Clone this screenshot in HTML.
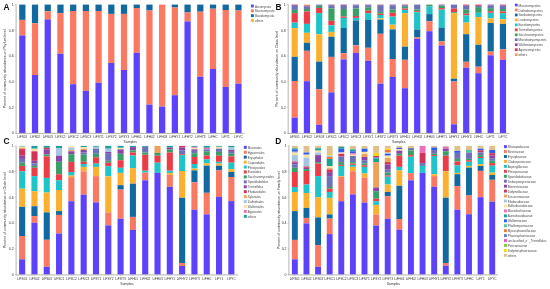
<!DOCTYPE html>
<html><head><meta charset="utf-8"><title>Community composition bar charts</title>
<style>
html,body{margin:0;padding:0;background:#fff;}
body{width:550px;height:289px;overflow:hidden;}
svg{display:block;will-change:transform;font-family:"Liberation Sans",sans-serif;}
</style></head>
<body>
<svg width="550" height="289" viewBox="0 0 550 289">
<rect width="550" height="289" fill="#fff"/>
<rect x="19.2" y="4.6" width="6.25" height="15.3" fill="#1169a0"/>
<rect x="19.2" y="19.9" width="6.25" height="15.5" fill="#fb7862"/>
<rect x="19.2" y="35.4" width="6.25" height="97.6" fill="#5d42fb"/>
<rect x="31.91" y="4.6" width="6.25" height="18.6" fill="#1169a0"/>
<rect x="31.91" y="23.2" width="6.25" height="51.8" fill="#fb7862"/>
<rect x="31.91" y="75" width="6.25" height="58" fill="#5d42fb"/>
<rect x="44.62" y="4.6" width="6.25" height="6.6" fill="#1169a0"/>
<rect x="44.62" y="11.2" width="6.25" height="8.2" fill="#fb7862"/>
<rect x="44.62" y="19.4" width="6.25" height="113.6" fill="#5d42fb"/>
<rect x="57.34" y="4.6" width="6.25" height="8.6" fill="#1169a0"/>
<rect x="57.34" y="13.2" width="6.25" height="40.6" fill="#fb7862"/>
<rect x="57.34" y="53.8" width="6.25" height="79.2" fill="#5d42fb"/>
<rect x="70.05" y="4.6" width="6.25" height="6.4" fill="#1169a0"/>
<rect x="70.05" y="11" width="6.25" height="73.2" fill="#fb7862"/>
<rect x="70.05" y="84.2" width="6.25" height="48.8" fill="#5d42fb"/>
<rect x="82.76" y="4.6" width="6.25" height="6.4" fill="#1169a0"/>
<rect x="82.76" y="11" width="6.25" height="79.9" fill="#fb7862"/>
<rect x="82.76" y="90.9" width="6.25" height="42.1" fill="#5d42fb"/>
<rect x="95.47" y="4.6" width="6.25" height="6.4" fill="#1169a0"/>
<rect x="95.47" y="11" width="6.25" height="71.7" fill="#fb7862"/>
<rect x="95.47" y="82.7" width="6.25" height="50.3" fill="#5d42fb"/>
<rect x="108.18" y="4.6" width="6.25" height="9.3" fill="#1169a0"/>
<rect x="108.18" y="13.9" width="6.25" height="49.1" fill="#fb7862"/>
<rect x="108.18" y="63" width="6.25" height="70" fill="#5d42fb"/>
<rect x="120.9" y="4.6" width="6.25" height="9.3" fill="#1169a0"/>
<rect x="120.9" y="13.9" width="6.25" height="56.1" fill="#fb7862"/>
<rect x="120.9" y="70" width="6.25" height="63" fill="#5d42fb"/>
<rect x="133.61" y="4.6" width="6.25" height="3.4" fill="#1169a0"/>
<rect x="133.61" y="8" width="6.25" height="44.8" fill="#fb7862"/>
<rect x="133.61" y="52.8" width="6.25" height="80.2" fill="#5d42fb"/>
<rect x="146.32" y="4.6" width="6.25" height="5.9" fill="#1169a0"/>
<rect x="146.32" y="10.5" width="6.25" height="94.1" fill="#fb7862"/>
<rect x="146.32" y="104.6" width="6.25" height="28.4" fill="#5d42fb"/>
<rect x="159.03" y="4.6" width="6.25" height="102" fill="#fb7862"/>
<rect x="159.03" y="106.6" width="6.25" height="26.4" fill="#5d42fb"/>
<rect x="171.74" y="4.6" width="6.25" height="2.9" fill="#1169a0"/>
<rect x="171.74" y="7.5" width="6.25" height="87.7" fill="#fb7862"/>
<rect x="171.74" y="95.2" width="6.25" height="37.8" fill="#5d42fb"/>
<rect x="184.46" y="4.6" width="6.25" height="7.9" fill="#1169a0"/>
<rect x="184.46" y="12.5" width="6.25" height="8.9" fill="#fb7862"/>
<rect x="184.46" y="21.4" width="6.25" height="111.6" fill="#5d42fb"/>
<rect x="197.17" y="4.6" width="6.25" height="7.1" fill="#1169a0"/>
<rect x="197.17" y="11.7" width="6.25" height="65" fill="#fb7862"/>
<rect x="197.17" y="76.7" width="6.25" height="56.3" fill="#5d42fb"/>
<rect x="209.88" y="4.6" width="6.25" height="4.1" fill="#1169a0"/>
<rect x="209.88" y="8.7" width="6.25" height="60.3" fill="#fb7862"/>
<rect x="209.88" y="69" width="6.25" height="64" fill="#5d42fb"/>
<rect x="222.59" y="4.6" width="6.25" height="5.4" fill="#1169a0"/>
<rect x="222.59" y="10" width="6.25" height="76.9" fill="#fb7862"/>
<rect x="222.59" y="86.9" width="6.25" height="46.1" fill="#5d42fb"/>
<rect x="235.3" y="4.6" width="6.25" height="5.9" fill="#1169a0"/>
<rect x="235.3" y="10.5" width="6.25" height="73.2" fill="#fb7862"/>
<rect x="235.3" y="83.7" width="6.25" height="49.3" fill="#5d42fb"/>
<path d="M16.1 4.2V133.8" fill="none" stroke="#a2a2a2" stroke-width="0.8"/>
<path d="M15.7 133.4H244.5" fill="none" stroke="#a2a2a2" stroke-width="0.8"/>
<path d="M14.7 133H16.1" stroke="#a2a2a2" stroke-width="0.45"/>
<text x="13.7" y="134.25" font-size="3.5" text-anchor="end" fill="#333333">0</text>
<path d="M14.7 107.32H16.1" stroke="#a2a2a2" stroke-width="0.45"/>
<text x="13.7" y="108.57" font-size="3.5" text-anchor="end" fill="#333333">0.2</text>
<path d="M14.7 81.64H16.1" stroke="#a2a2a2" stroke-width="0.45"/>
<text x="13.7" y="82.89" font-size="3.5" text-anchor="end" fill="#333333">0.4</text>
<path d="M14.7 55.96H16.1" stroke="#a2a2a2" stroke-width="0.45"/>
<text x="13.7" y="57.21" font-size="3.5" text-anchor="end" fill="#333333">0.6</text>
<path d="M14.7 30.28H16.1" stroke="#a2a2a2" stroke-width="0.45"/>
<text x="13.7" y="31.53" font-size="3.5" text-anchor="end" fill="#333333">0.8</text>
<path d="M14.7 4.6H16.1" stroke="#a2a2a2" stroke-width="0.45"/>
<text x="13.7" y="5.85" font-size="3.5" text-anchor="end" fill="#333333">1</text>
<path d="M22.32 133V134" stroke="#a2a2a2" stroke-width="0.4"/>
<text x="22.32" y="137.85" font-size="3.2" text-anchor="middle" fill="#333333">LiFS01</text>
<path d="M35.04 133V134" stroke="#a2a2a2" stroke-width="0.4"/>
<text x="35.04" y="137.85" font-size="3.2" text-anchor="middle" fill="#333333">LiFS02</text>
<path d="M47.75 133V134" stroke="#a2a2a2" stroke-width="0.4"/>
<text x="47.75" y="137.85" font-size="3.2" text-anchor="middle" fill="#333333">LiFS03</text>
<path d="M60.46 133V134" stroke="#a2a2a2" stroke-width="0.4"/>
<text x="60.46" y="137.85" font-size="3.2" text-anchor="middle" fill="#333333">LiFSC1</text>
<path d="M73.17 133V134" stroke="#a2a2a2" stroke-width="0.4"/>
<text x="73.17" y="137.85" font-size="3.2" text-anchor="middle" fill="#333333">LiFSC2</text>
<path d="M85.89 133V134" stroke="#a2a2a2" stroke-width="0.4"/>
<text x="85.89" y="137.85" font-size="3.2" text-anchor="middle" fill="#333333">LiFSC3</text>
<path d="M98.6 133V134" stroke="#a2a2a2" stroke-width="0.4"/>
<text x="98.6" y="137.85" font-size="3.2" text-anchor="middle" fill="#333333">LiFSY1</text>
<path d="M111.31 133V134" stroke="#a2a2a2" stroke-width="0.4"/>
<text x="111.31" y="137.85" font-size="3.2" text-anchor="middle" fill="#333333">LiFSY2</text>
<path d="M124.02 133V134" stroke="#a2a2a2" stroke-width="0.4"/>
<text x="124.02" y="137.85" font-size="3.2" text-anchor="middle" fill="#333333">LiFSY3</text>
<path d="M136.73 133V134" stroke="#a2a2a2" stroke-width="0.4"/>
<text x="136.73" y="137.85" font-size="3.2" text-anchor="middle" fill="#333333">LiFH01</text>
<path d="M149.44 133V134" stroke="#a2a2a2" stroke-width="0.4"/>
<text x="149.44" y="137.85" font-size="3.2" text-anchor="middle" fill="#333333">LiFH02</text>
<path d="M162.16 133V134" stroke="#a2a2a2" stroke-width="0.4"/>
<text x="162.16" y="137.85" font-size="3.2" text-anchor="middle" fill="#333333">LiFH03</text>
<path d="M174.87 133V134" stroke="#a2a2a2" stroke-width="0.4"/>
<text x="174.87" y="137.85" font-size="3.2" text-anchor="middle" fill="#333333">LiFHY1</text>
<path d="M187.58 133V134" stroke="#a2a2a2" stroke-width="0.4"/>
<text x="187.58" y="137.85" font-size="3.2" text-anchor="middle" fill="#333333">LiFHY2</text>
<path d="M200.29 133V134" stroke="#a2a2a2" stroke-width="0.4"/>
<text x="200.29" y="137.85" font-size="3.2" text-anchor="middle" fill="#333333">LiFHY3</text>
<path d="M213 133V134" stroke="#a2a2a2" stroke-width="0.4"/>
<text x="213" y="137.85" font-size="3.2" text-anchor="middle" fill="#333333">LiFHC</text>
<path d="M225.72 133V134" stroke="#a2a2a2" stroke-width="0.4"/>
<text x="225.72" y="137.85" font-size="3.2" text-anchor="middle" fill="#333333">LiFY1</text>
<path d="M238.43 133V134" stroke="#a2a2a2" stroke-width="0.4"/>
<text x="238.43" y="137.85" font-size="3.2" text-anchor="middle" fill="#333333">LiFYC</text>
<text x="130.3" y="143.1" font-size="3.45" text-anchor="middle" fill="#333333">Samples</text>
<text transform="translate(6.3 68.8) rotate(-90)" font-size="3.55" text-anchor="middle" fill="#333333">Percent of community abundance on Phylum level</text>
<text x="3.6" y="9.9" font-size="8.4" font-weight="bold" fill="#111">A</text>
<rect x="250.9" y="4.55" width="2.9" height="2.9" fill="#5d42fb"/>
<text x="255" y="7.5" font-size="2.96" fill="#4a4a4a">Ascomycota</text>
<rect x="250.9" y="9.38" width="2.9" height="2.9" fill="#fb7862"/>
<text x="255" y="12.33" font-size="2.96" fill="#4a4a4a">Mucoromycota</text>
<rect x="250.9" y="14.21" width="2.9" height="2.9" fill="#1169a0"/>
<text x="255" y="17.16" font-size="2.96" fill="#4a4a4a">Basidiomycota</text>
<rect x="250.9" y="19.04" width="2.9" height="2.9" fill="#fbb12f"/>
<text x="255" y="21.99" font-size="2.96" fill="#4a4a4a">others</text>
<rect x="291.6" y="4.6" width="6.2" height="0.4" fill="#d13456"/>
<rect x="291.6" y="5" width="6.2" height="0.8" fill="#8b45a6"/>
<rect x="291.6" y="5.8" width="6.2" height="4.1" fill="#6c72b8"/>
<rect x="291.6" y="9.9" width="6.2" height="3.2" fill="#3a9f66"/>
<rect x="291.6" y="13.1" width="6.2" height="9.5" fill="#ec3d47"/>
<rect x="291.6" y="22.6" width="6.2" height="5.5" fill="#1ec4c8"/>
<rect x="291.6" y="28.1" width="6.2" height="28.7" fill="#fbb12f"/>
<rect x="291.6" y="56.8" width="6.2" height="24.2" fill="#1169a0"/>
<rect x="291.6" y="81" width="6.2" height="36.6" fill="#fb7862"/>
<rect x="291.6" y="117.6" width="6.2" height="15.4" fill="#5d42fb"/>
<rect x="303.85" y="4.6" width="6.2" height="0.8" fill="#eea15a"/>
<rect x="303.85" y="5.4" width="6.2" height="0.5" fill="#d13456"/>
<rect x="303.85" y="5.9" width="6.2" height="0.7" fill="#8b45a6"/>
<rect x="303.85" y="6.6" width="6.2" height="2.4" fill="#6c72b8"/>
<rect x="303.85" y="9" width="6.2" height="2.5" fill="#3a9f66"/>
<rect x="303.85" y="11.5" width="6.2" height="12.4" fill="#ec3d47"/>
<rect x="303.85" y="23.9" width="6.2" height="8.9" fill="#1ec4c8"/>
<rect x="303.85" y="32.8" width="6.2" height="10" fill="#fbb12f"/>
<rect x="303.85" y="42.8" width="6.2" height="8" fill="#1169a0"/>
<rect x="303.85" y="50.8" width="6.2" height="30.4" fill="#fb7862"/>
<rect x="303.85" y="81.2" width="6.2" height="51.8" fill="#5d42fb"/>
<rect x="316.1" y="4.6" width="6.2" height="1.2" fill="#6c72b8"/>
<rect x="316.1" y="5.8" width="6.2" height="2.2" fill="#3a9f66"/>
<rect x="316.1" y="8" width="6.2" height="5.1" fill="#ec3d47"/>
<rect x="316.1" y="13.1" width="6.2" height="21.2" fill="#1ec4c8"/>
<rect x="316.1" y="34.3" width="6.2" height="27.3" fill="#fbb12f"/>
<rect x="316.1" y="61.6" width="6.2" height="27.6" fill="#1169a0"/>
<rect x="316.1" y="89.2" width="6.2" height="35.6" fill="#fb7862"/>
<rect x="316.1" y="124.8" width="6.2" height="8.2" fill="#5d42fb"/>
<rect x="328.35" y="4.6" width="6.2" height="0.6" fill="#d13456"/>
<rect x="328.35" y="5.2" width="6.2" height="3.2" fill="#6c72b8"/>
<rect x="328.35" y="8.4" width="6.2" height="12.4" fill="#3a9f66"/>
<rect x="328.35" y="20.8" width="6.2" height="4.5" fill="#ec3d47"/>
<rect x="328.35" y="25.3" width="6.2" height="6.6" fill="#1ec4c8"/>
<rect x="328.35" y="31.9" width="6.2" height="4.9" fill="#fbb12f"/>
<rect x="328.35" y="36.8" width="6.2" height="20.1" fill="#1169a0"/>
<rect x="328.35" y="56.9" width="6.2" height="35.5" fill="#fb7862"/>
<rect x="328.35" y="92.4" width="6.2" height="40.6" fill="#5d42fb"/>
<rect x="340.6" y="4.6" width="6.2" height="1.2" fill="#8b45a6"/>
<rect x="340.6" y="5.8" width="6.2" height="3.2" fill="#6c72b8"/>
<rect x="340.6" y="9" width="6.2" height="7.6" fill="#3a9f66"/>
<rect x="340.6" y="16.6" width="6.2" height="1.3" fill="#ec3d47"/>
<rect x="340.6" y="17.9" width="6.2" height="10.1" fill="#1ec4c8"/>
<rect x="340.6" y="28" width="6.2" height="25.2" fill="#1169a0"/>
<rect x="340.6" y="53.2" width="6.2" height="6.2" fill="#fb7862"/>
<rect x="340.6" y="59.4" width="6.2" height="73.6" fill="#5d42fb"/>
<rect x="352.85" y="4.6" width="6.2" height="0.6" fill="#8b45a6"/>
<rect x="352.85" y="5.2" width="6.2" height="3.2" fill="#6c72b8"/>
<rect x="352.85" y="8.4" width="6.2" height="7.6" fill="#3a9f66"/>
<rect x="352.85" y="16" width="6.2" height="1.9" fill="#ec3d47"/>
<rect x="352.85" y="17.9" width="6.2" height="2.6" fill="#1ec4c8"/>
<rect x="352.85" y="20.5" width="6.2" height="24.8" fill="#1169a0"/>
<rect x="352.85" y="45.3" width="6.2" height="7.6" fill="#fb7862"/>
<rect x="352.85" y="52.9" width="6.2" height="80.1" fill="#5d42fb"/>
<rect x="365.1" y="4.6" width="6.2" height="0.6" fill="#8b45a6"/>
<rect x="365.1" y="5.2" width="6.2" height="2.1" fill="#6c72b8"/>
<rect x="365.1" y="7.3" width="6.2" height="3.4" fill="#3a9f66"/>
<rect x="365.1" y="10.7" width="6.2" height="2.5" fill="#ec3d47"/>
<rect x="365.1" y="13.2" width="6.2" height="6.6" fill="#1ec4c8"/>
<rect x="365.1" y="19.8" width="6.2" height="28" fill="#1169a0"/>
<rect x="365.1" y="47.8" width="6.2" height="13" fill="#fb7862"/>
<rect x="365.1" y="60.8" width="6.2" height="72.2" fill="#5d42fb"/>
<rect x="377.35" y="4.6" width="6.2" height="0.6" fill="#d13456"/>
<rect x="377.35" y="5.2" width="6.2" height="6.7" fill="#6c72b8"/>
<rect x="377.35" y="11.9" width="6.2" height="1.8" fill="#3a9f66"/>
<rect x="377.35" y="13.7" width="6.2" height="1.3" fill="#ec3d47"/>
<rect x="377.35" y="15" width="6.2" height="3.3" fill="#1ec4c8"/>
<rect x="377.35" y="18.3" width="6.2" height="1.3" fill="#fbb12f"/>
<rect x="377.35" y="19.6" width="6.2" height="14.2" fill="#1169a0"/>
<rect x="377.35" y="33.8" width="6.2" height="49.9" fill="#fb7862"/>
<rect x="377.35" y="83.7" width="6.2" height="49.3" fill="#5d42fb"/>
<rect x="389.6" y="4.6" width="6.2" height="1" fill="#8b45a6"/>
<rect x="389.6" y="5.6" width="6.2" height="4" fill="#6c72b8"/>
<rect x="389.6" y="9.6" width="6.2" height="3.2" fill="#3a9f66"/>
<rect x="389.6" y="12.8" width="6.2" height="3.8" fill="#ec3d47"/>
<rect x="389.6" y="16.6" width="6.2" height="8.1" fill="#1ec4c8"/>
<rect x="389.6" y="24.7" width="6.2" height="4.7" fill="#fbb12f"/>
<rect x="389.6" y="29.4" width="6.2" height="29.6" fill="#1169a0"/>
<rect x="389.6" y="59" width="6.2" height="18" fill="#fb7862"/>
<rect x="389.6" y="77" width="6.2" height="56" fill="#5d42fb"/>
<rect x="401.85" y="4.6" width="6.2" height="0.6" fill="#d13456"/>
<rect x="401.85" y="5.2" width="6.2" height="1.6" fill="#6c72b8"/>
<rect x="401.85" y="6.8" width="6.2" height="1.8" fill="#3a9f66"/>
<rect x="401.85" y="8.6" width="6.2" height="1.3" fill="#ec3d47"/>
<rect x="401.85" y="9.9" width="6.2" height="3.3" fill="#1ec4c8"/>
<rect x="401.85" y="13.2" width="6.2" height="33.5" fill="#fbb12f"/>
<rect x="401.85" y="46.7" width="6.2" height="13.1" fill="#1169a0"/>
<rect x="401.85" y="59.8" width="6.2" height="28.4" fill="#fb7862"/>
<rect x="401.85" y="88.2" width="6.2" height="44.8" fill="#5d42fb"/>
<rect x="414.1" y="4.6" width="6.2" height="4.8" fill="#6c72b8"/>
<rect x="414.1" y="9.4" width="6.2" height="1.8" fill="#3a9f66"/>
<rect x="414.1" y="11.2" width="6.2" height="1" fill="#ec3d47"/>
<rect x="414.1" y="12.2" width="6.2" height="17.3" fill="#1ec4c8"/>
<rect x="414.1" y="29.5" width="6.2" height="7.9" fill="#1169a0"/>
<rect x="414.1" y="37.4" width="6.2" height="1.4" fill="#fb7862"/>
<rect x="414.1" y="38.8" width="6.2" height="94.2" fill="#5d42fb"/>
<rect x="426.35" y="4.6" width="6.2" height="1.9" fill="#3a9f66"/>
<rect x="426.35" y="6.5" width="6.2" height="7.6" fill="#1ec4c8"/>
<rect x="426.35" y="14.1" width="6.2" height="7.1" fill="#1169a0"/>
<rect x="426.35" y="21.2" width="6.2" height="10" fill="#fb7862"/>
<rect x="426.35" y="31.2" width="6.2" height="101.8" fill="#5d42fb"/>
<rect x="438.6" y="4.6" width="6.2" height="0.6" fill="#8b45a6"/>
<rect x="438.6" y="5.2" width="6.2" height="0.6" fill="#6c72b8"/>
<rect x="438.6" y="5.8" width="6.2" height="2.3" fill="#3a9f66"/>
<rect x="438.6" y="8.1" width="6.2" height="1.5" fill="#ec3d47"/>
<rect x="438.6" y="9.6" width="6.2" height="17.9" fill="#1ec4c8"/>
<rect x="438.6" y="27.5" width="6.2" height="13.9" fill="#1169a0"/>
<rect x="438.6" y="41.4" width="6.2" height="4.1" fill="#fb7862"/>
<rect x="438.6" y="45.5" width="6.2" height="87.5" fill="#5d42fb"/>
<rect x="450.85" y="4.6" width="6.2" height="4" fill="#6c72b8"/>
<rect x="450.85" y="8.6" width="6.2" height="3.6" fill="#ec3d47"/>
<rect x="450.85" y="12.2" width="6.2" height="1" fill="#3a9f66"/>
<rect x="450.85" y="13.2" width="6.2" height="65.5" fill="#fbb12f"/>
<rect x="450.85" y="78.7" width="6.2" height="2.8" fill="#1169a0"/>
<rect x="450.85" y="81.5" width="6.2" height="42.8" fill="#fb7862"/>
<rect x="450.85" y="124.3" width="6.2" height="8.7" fill="#5d42fb"/>
<rect x="463.1" y="4.6" width="6.2" height="1" fill="#d13456"/>
<rect x="463.1" y="5.6" width="6.2" height="4" fill="#6c72b8"/>
<rect x="463.1" y="9.6" width="6.2" height="4.1" fill="#3a9f66"/>
<rect x="463.1" y="13.7" width="6.2" height="1.7" fill="#ec3d47"/>
<rect x="463.1" y="15.4" width="6.2" height="7.2" fill="#1ec4c8"/>
<rect x="463.1" y="22.6" width="6.2" height="11.6" fill="#fbb12f"/>
<rect x="463.1" y="34.2" width="6.2" height="27.6" fill="#1169a0"/>
<rect x="463.1" y="61.8" width="6.2" height="5.9" fill="#fb7862"/>
<rect x="463.1" y="67.7" width="6.2" height="65.3" fill="#5d42fb"/>
<rect x="475.35" y="4.6" width="6.2" height="1.2" fill="#d13456"/>
<rect x="475.35" y="5.8" width="6.2" height="1.3" fill="#6c72b8"/>
<rect x="475.35" y="7.1" width="6.2" height="5.7" fill="#3a9f66"/>
<rect x="475.35" y="12.8" width="6.2" height="4.2" fill="#1ec4c8"/>
<rect x="475.35" y="17" width="6.2" height="27.8" fill="#fbb12f"/>
<rect x="475.35" y="44.8" width="6.2" height="21.9" fill="#1169a0"/>
<rect x="475.35" y="66.7" width="6.2" height="6.5" fill="#fb7862"/>
<rect x="475.35" y="73.2" width="6.2" height="59.8" fill="#5d42fb"/>
<rect x="487.6" y="4.6" width="6.2" height="1" fill="#8b45a6"/>
<rect x="487.6" y="5.6" width="6.2" height="2.5" fill="#6c72b8"/>
<rect x="487.6" y="8.1" width="6.2" height="3.1" fill="#3a9f66"/>
<rect x="487.6" y="11.2" width="6.2" height="1.6" fill="#ec3d47"/>
<rect x="487.6" y="12.8" width="6.2" height="5.5" fill="#1ec4c8"/>
<rect x="487.6" y="18.3" width="6.2" height="4.7" fill="#fbb12f"/>
<rect x="487.6" y="23" width="6.2" height="28.6" fill="#1169a0"/>
<rect x="487.6" y="51.6" width="6.2" height="3.7" fill="#fb7862"/>
<rect x="487.6" y="55.3" width="6.2" height="77.7" fill="#5d42fb"/>
<rect x="499.85" y="4.6" width="6.2" height="1" fill="#d13456"/>
<rect x="499.85" y="5.6" width="6.2" height="3.4" fill="#6c72b8"/>
<rect x="499.85" y="9" width="6.2" height="2.5" fill="#3a9f66"/>
<rect x="499.85" y="11.5" width="6.2" height="1.7" fill="#ec3d47"/>
<rect x="499.85" y="13.2" width="6.2" height="6" fill="#1ec4c8"/>
<rect x="499.85" y="19.2" width="6.2" height="4.7" fill="#fbb12f"/>
<rect x="499.85" y="23.9" width="6.2" height="25.4" fill="#1169a0"/>
<rect x="499.85" y="49.3" width="6.2" height="10.5" fill="#fb7862"/>
<rect x="499.85" y="59.8" width="6.2" height="73.2" fill="#5d42fb"/>
<path d="M288.2 4.2V133.8" fill="none" stroke="#a2a2a2" stroke-width="0.8"/>
<path d="M287.8 133.4H509.4" fill="none" stroke="#a2a2a2" stroke-width="0.8"/>
<path d="M286.8 133H288.2" stroke="#a2a2a2" stroke-width="0.45"/>
<text x="285.8" y="134.25" font-size="3.5" text-anchor="end" fill="#333333">0</text>
<path d="M286.8 107.32H288.2" stroke="#a2a2a2" stroke-width="0.45"/>
<text x="285.8" y="108.57" font-size="3.5" text-anchor="end" fill="#333333">0.2</text>
<path d="M286.8 81.64H288.2" stroke="#a2a2a2" stroke-width="0.45"/>
<text x="285.8" y="82.89" font-size="3.5" text-anchor="end" fill="#333333">0.4</text>
<path d="M286.8 55.96H288.2" stroke="#a2a2a2" stroke-width="0.45"/>
<text x="285.8" y="57.21" font-size="3.5" text-anchor="end" fill="#333333">0.6</text>
<path d="M286.8 30.28H288.2" stroke="#a2a2a2" stroke-width="0.45"/>
<text x="285.8" y="31.53" font-size="3.5" text-anchor="end" fill="#333333">0.8</text>
<path d="M286.8 4.6H288.2" stroke="#a2a2a2" stroke-width="0.45"/>
<text x="285.8" y="5.85" font-size="3.5" text-anchor="end" fill="#333333">1</text>
<path d="M294.7 133V134" stroke="#a2a2a2" stroke-width="0.4"/>
<text x="294.7" y="137.85" font-size="3.2" text-anchor="middle" fill="#333333">LiFS01</text>
<path d="M306.95 133V134" stroke="#a2a2a2" stroke-width="0.4"/>
<text x="306.95" y="137.85" font-size="3.2" text-anchor="middle" fill="#333333">LiFS02</text>
<path d="M319.2 133V134" stroke="#a2a2a2" stroke-width="0.4"/>
<text x="319.2" y="137.85" font-size="3.2" text-anchor="middle" fill="#333333">LiFS03</text>
<path d="M331.45 133V134" stroke="#a2a2a2" stroke-width="0.4"/>
<text x="331.45" y="137.85" font-size="3.2" text-anchor="middle" fill="#333333">LiFSC1</text>
<path d="M343.7 133V134" stroke="#a2a2a2" stroke-width="0.4"/>
<text x="343.7" y="137.85" font-size="3.2" text-anchor="middle" fill="#333333">LiFSC2</text>
<path d="M355.95 133V134" stroke="#a2a2a2" stroke-width="0.4"/>
<text x="355.95" y="137.85" font-size="3.2" text-anchor="middle" fill="#333333">LiFSC3</text>
<path d="M368.2 133V134" stroke="#a2a2a2" stroke-width="0.4"/>
<text x="368.2" y="137.85" font-size="3.2" text-anchor="middle" fill="#333333">LiFSY1</text>
<path d="M380.45 133V134" stroke="#a2a2a2" stroke-width="0.4"/>
<text x="380.45" y="137.85" font-size="3.2" text-anchor="middle" fill="#333333">LiFSY2</text>
<path d="M392.7 133V134" stroke="#a2a2a2" stroke-width="0.4"/>
<text x="392.7" y="137.85" font-size="3.2" text-anchor="middle" fill="#333333">LiFSY3</text>
<path d="M404.95 133V134" stroke="#a2a2a2" stroke-width="0.4"/>
<text x="404.95" y="137.85" font-size="3.2" text-anchor="middle" fill="#333333">LiFH01</text>
<path d="M417.2 133V134" stroke="#a2a2a2" stroke-width="0.4"/>
<text x="417.2" y="137.85" font-size="3.2" text-anchor="middle" fill="#333333">LiFH02</text>
<path d="M429.45 133V134" stroke="#a2a2a2" stroke-width="0.4"/>
<text x="429.45" y="137.85" font-size="3.2" text-anchor="middle" fill="#333333">LiFH03</text>
<path d="M441.7 133V134" stroke="#a2a2a2" stroke-width="0.4"/>
<text x="441.7" y="137.85" font-size="3.2" text-anchor="middle" fill="#333333">LiFHY1</text>
<path d="M453.95 133V134" stroke="#a2a2a2" stroke-width="0.4"/>
<text x="453.95" y="137.85" font-size="3.2" text-anchor="middle" fill="#333333">LiFHY2</text>
<path d="M466.2 133V134" stroke="#a2a2a2" stroke-width="0.4"/>
<text x="466.2" y="137.85" font-size="3.2" text-anchor="middle" fill="#333333">LiFHY3</text>
<path d="M478.45 133V134" stroke="#a2a2a2" stroke-width="0.4"/>
<text x="478.45" y="137.85" font-size="3.2" text-anchor="middle" fill="#333333">LiFHC</text>
<path d="M490.7 133V134" stroke="#a2a2a2" stroke-width="0.4"/>
<text x="490.7" y="137.85" font-size="3.2" text-anchor="middle" fill="#333333">LiFY1</text>
<path d="M502.95 133V134" stroke="#a2a2a2" stroke-width="0.4"/>
<text x="502.95" y="137.85" font-size="3.2" text-anchor="middle" fill="#333333">LiFYC</text>
<text x="398.8" y="143.1" font-size="3.45" text-anchor="middle" fill="#333333">Samples</text>
<text transform="translate(278.3 68.8) rotate(-90)" font-size="3.55" text-anchor="middle" fill="#333333">Percent of community abundance on Class level</text>
<text x="275.4" y="9.9" font-size="8.4" font-weight="bold" fill="#111">B</text>
<rect x="514.9" y="3.7" width="2.7" height="2.7" fill="#5d42fb"/>
<text x="518.5" y="6.55" font-size="3.15" fill="#4a4a4a">Mucoromycetes</text>
<rect x="514.9" y="8.66" width="2.7" height="2.7" fill="#fb7862"/>
<text x="518.5" y="11.51" font-size="3.15" fill="#4a4a4a">Dothideomycetes</text>
<rect x="514.9" y="13.62" width="2.7" height="2.7" fill="#1169a0"/>
<text x="518.5" y="16.47" font-size="3.15" fill="#4a4a4a">Sordariomycetes</text>
<rect x="514.9" y="18.58" width="2.7" height="2.7" fill="#fbb12f"/>
<text x="518.5" y="21.43" font-size="3.15" fill="#4a4a4a">Leotiomycetes</text>
<rect x="514.9" y="23.54" width="2.7" height="2.7" fill="#1ec4c8"/>
<text x="518.5" y="26.39" font-size="3.15" fill="#4a4a4a">Eurotiomycetes</text>
<rect x="514.9" y="28.5" width="2.7" height="2.7" fill="#ec3d47"/>
<text x="518.5" y="31.35" font-size="3.15" fill="#4a4a4a">Tremellomycetes</text>
<rect x="514.9" y="33.46" width="2.7" height="2.7" fill="#3a9f66"/>
<text x="518.5" y="36.31" font-size="3.15" fill="#4a4a4a">Saccharomycetes</text>
<rect x="514.9" y="38.42" width="2.7" height="2.7" fill="#6c72b8"/>
<text x="518.5" y="41.27" font-size="3.15" fill="#4a4a4a">Microbotryomycetes</text>
<rect x="514.9" y="43.38" width="2.7" height="2.7" fill="#8b45a6"/>
<text x="518.5" y="46.23" font-size="3.15" fill="#4a4a4a">Wallemiomycetes</text>
<rect x="514.9" y="48.34" width="2.7" height="2.7" fill="#d13456"/>
<text x="518.5" y="51.19" font-size="3.15" fill="#4a4a4a">Agaricomycetes</text>
<rect x="514.9" y="53.3" width="2.7" height="2.7" fill="#eea15a"/>
<text x="518.5" y="56.15" font-size="3.15" fill="#4a4a4a">others</text>
<rect x="19.1" y="145.9" width="6.1" height="0.7" fill="#1ba096"/>
<rect x="19.1" y="146.6" width="6.1" height="1.2" fill="#fbe1a6"/>
<rect x="19.1" y="147.8" width="6.1" height="1.3" fill="#eea15a"/>
<rect x="19.1" y="149.1" width="6.1" height="6.6" fill="#d13456"/>
<rect x="19.1" y="155.7" width="6.1" height="3.2" fill="#8b45a6"/>
<rect x="19.1" y="158.9" width="6.1" height="3.8" fill="#6c72b8"/>
<rect x="19.1" y="162.7" width="6.1" height="3.2" fill="#3a9f66"/>
<rect x="19.1" y="165.9" width="6.1" height="5.4" fill="#ec3d47"/>
<rect x="19.1" y="171.3" width="6.1" height="17.4" fill="#1ec4c8"/>
<rect x="19.1" y="188.7" width="6.1" height="18.2" fill="#fbb12f"/>
<rect x="19.1" y="206.9" width="6.1" height="29.1" fill="#1169a0"/>
<rect x="19.1" y="236" width="6.1" height="23.3" fill="#fb7862"/>
<rect x="19.1" y="259.3" width="6.1" height="15.2" fill="#5d42fb"/>
<rect x="31.41" y="145.9" width="6.1" height="2.8" fill="#1ba096"/>
<rect x="31.41" y="148.7" width="6.1" height="2.6" fill="#fbe1a6"/>
<rect x="31.41" y="151.3" width="6.1" height="9.5" fill="#d13456"/>
<rect x="31.41" y="160.8" width="6.1" height="2.6" fill="#8b45a6"/>
<rect x="31.41" y="163.4" width="6.1" height="2.5" fill="#6c72b8"/>
<rect x="31.41" y="165.9" width="6.1" height="1.9" fill="#3a9f66"/>
<rect x="31.41" y="167.8" width="6.1" height="8.3" fill="#ec3d47"/>
<rect x="31.41" y="176.1" width="6.1" height="15.1" fill="#1ec4c8"/>
<rect x="31.41" y="191.2" width="6.1" height="15" fill="#fbb12f"/>
<rect x="31.41" y="206.2" width="6.1" height="9.9" fill="#1169a0"/>
<rect x="31.41" y="216.1" width="6.1" height="6.7" fill="#fb7862"/>
<rect x="31.41" y="222.8" width="6.1" height="51.7" fill="#5d42fb"/>
<rect x="43.71" y="145.9" width="6.1" height="1.9" fill="#1ba096"/>
<rect x="43.71" y="147.8" width="6.1" height="1.6" fill="#d13456"/>
<rect x="43.71" y="149.4" width="6.1" height="5.1" fill="#8b45a6"/>
<rect x="43.71" y="154.5" width="6.1" height="1.9" fill="#3a9f66"/>
<rect x="43.71" y="156.4" width="6.1" height="21.5" fill="#ec3d47"/>
<rect x="43.71" y="177.9" width="6.1" height="14.6" fill="#1ec4c8"/>
<rect x="43.71" y="192.5" width="6.1" height="19.9" fill="#fbb12f"/>
<rect x="43.71" y="212.4" width="6.1" height="27.4" fill="#1169a0"/>
<rect x="43.71" y="239.8" width="6.1" height="27" fill="#fb7862"/>
<rect x="43.71" y="266.8" width="6.1" height="7.7" fill="#5d42fb"/>
<rect x="56.02" y="145.9" width="6.1" height="2.2" fill="#1ba096"/>
<rect x="56.02" y="148.1" width="6.1" height="7.6" fill="#a4c6e4"/>
<rect x="56.02" y="155.7" width="6.1" height="6.1" fill="#8b45a6"/>
<rect x="56.02" y="161.8" width="6.1" height="12.5" fill="#3a9f66"/>
<rect x="56.02" y="174.3" width="6.1" height="6" fill="#ec3d47"/>
<rect x="56.02" y="180.3" width="6.1" height="9.7" fill="#1ec4c8"/>
<rect x="56.02" y="190" width="6.1" height="21.1" fill="#fbb12f"/>
<rect x="56.02" y="211.1" width="6.1" height="3.8" fill="#1169a0"/>
<rect x="56.02" y="214.9" width="6.1" height="18.6" fill="#fb7862"/>
<rect x="56.02" y="233.5" width="6.1" height="41" fill="#5d42fb"/>
<rect x="68.32" y="145.9" width="6.1" height="1.6" fill="#fbe1a6"/>
<rect x="68.32" y="147.5" width="6.1" height="2.5" fill="#a4c6e4"/>
<rect x="68.32" y="150" width="6.1" height="1.3" fill="#eea15a"/>
<rect x="68.32" y="151.3" width="6.1" height="2.9" fill="#8b45a6"/>
<rect x="68.32" y="154.2" width="6.1" height="7.7" fill="#3a9f66"/>
<rect x="68.32" y="161.9" width="6.1" height="10.1" fill="#ec3d47"/>
<rect x="68.32" y="172" width="6.1" height="3.6" fill="#1ec4c8"/>
<rect x="68.32" y="175.6" width="6.1" height="1.6" fill="#fbb12f"/>
<rect x="68.32" y="177.2" width="6.1" height="24" fill="#fb7862"/>
<rect x="68.32" y="201.2" width="6.1" height="73.3" fill="#5d42fb"/>
<rect x="80.63" y="145.9" width="6.1" height="1.2" fill="#1ba096"/>
<rect x="80.63" y="147.1" width="6.1" height="1.6" fill="#fbe1a6"/>
<rect x="80.63" y="148.7" width="6.1" height="1.3" fill="#eea15a"/>
<rect x="80.63" y="150" width="6.1" height="2.5" fill="#8b45a6"/>
<rect x="80.63" y="152.5" width="6.1" height="2.2" fill="#6c72b8"/>
<rect x="80.63" y="154.7" width="6.1" height="7.1" fill="#3a9f66"/>
<rect x="80.63" y="161.8" width="6.1" height="2.2" fill="#ec3d47"/>
<rect x="80.63" y="164" width="6.1" height="2.9" fill="#1ec4c8"/>
<rect x="80.63" y="166.9" width="6.1" height="4.5" fill="#fbb12f"/>
<rect x="80.63" y="171.4" width="6.1" height="23.2" fill="#fb7862"/>
<rect x="80.63" y="194.6" width="6.1" height="79.9" fill="#5d42fb"/>
<rect x="92.94" y="145.9" width="6.1" height="0.9" fill="#1ba096"/>
<rect x="92.94" y="146.8" width="6.1" height="1.9" fill="#a4c6e4"/>
<rect x="92.94" y="148.7" width="6.1" height="5.1" fill="#6c72b8"/>
<rect x="92.94" y="153.8" width="6.1" height="3.5" fill="#3a9f66"/>
<rect x="92.94" y="157.3" width="6.1" height="6.3" fill="#ec3d47"/>
<rect x="92.94" y="163.6" width="6.1" height="3.3" fill="#1ec4c8"/>
<rect x="92.94" y="166.9" width="6.1" height="9.2" fill="#fbb12f"/>
<rect x="92.94" y="176.1" width="6.1" height="26.3" fill="#fb7862"/>
<rect x="92.94" y="202.4" width="6.1" height="72.1" fill="#5d42fb"/>
<rect x="105.24" y="145.9" width="6.1" height="2.8" fill="#1ba096"/>
<rect x="105.24" y="148.7" width="6.1" height="3.2" fill="#a4c6e4"/>
<rect x="105.24" y="151.9" width="6.1" height="1.9" fill="#8b45a6"/>
<rect x="105.24" y="153.8" width="6.1" height="7" fill="#6c72b8"/>
<rect x="105.24" y="160.8" width="6.1" height="1.9" fill="#3a9f66"/>
<rect x="105.24" y="162.7" width="6.1" height="3.5" fill="#ec3d47"/>
<rect x="105.24" y="166.2" width="6.1" height="10.1" fill="#1ec4c8"/>
<rect x="105.24" y="176.3" width="6.1" height="36.1" fill="#fbb12f"/>
<rect x="105.24" y="212.4" width="6.1" height="13" fill="#fb7862"/>
<rect x="105.24" y="225.4" width="6.1" height="49.1" fill="#5d42fb"/>
<rect x="117.55" y="145.9" width="6.1" height="1.9" fill="#1ba096"/>
<rect x="117.55" y="147.8" width="6.1" height="1.6" fill="#fbe1a6"/>
<rect x="117.55" y="149.4" width="6.1" height="4.4" fill="#8b45a6"/>
<rect x="117.55" y="153.8" width="6.1" height="6.4" fill="#3a9f66"/>
<rect x="117.55" y="160.2" width="6.1" height="7.6" fill="#ec3d47"/>
<rect x="117.55" y="167.8" width="6.1" height="5.1" fill="#1ec4c8"/>
<rect x="117.55" y="172.9" width="6.1" height="12.3" fill="#fbb12f"/>
<rect x="117.55" y="185.2" width="6.1" height="4.4" fill="#1169a0"/>
<rect x="117.55" y="189.6" width="6.1" height="29.1" fill="#fb7862"/>
<rect x="117.55" y="218.7" width="6.1" height="55.8" fill="#5d42fb"/>
<rect x="129.85" y="145.9" width="6.1" height="1.2" fill="#1ba096"/>
<rect x="129.85" y="147.1" width="6.1" height="3.3" fill="#8b45a6"/>
<rect x="129.85" y="150.4" width="6.1" height="2.1" fill="#3a9f66"/>
<rect x="129.85" y="152.5" width="6.1" height="3" fill="#ec3d47"/>
<rect x="129.85" y="155.5" width="6.1" height="12.6" fill="#1ec4c8"/>
<rect x="129.85" y="168.1" width="6.1" height="15.6" fill="#fbb12f"/>
<rect x="129.85" y="183.7" width="6.1" height="33.2" fill="#1169a0"/>
<rect x="129.85" y="216.9" width="6.1" height="13" fill="#fb7862"/>
<rect x="129.85" y="229.9" width="6.1" height="44.6" fill="#5d42fb"/>
<rect x="142.16" y="145.9" width="6.1" height="0.9" fill="#1ba096"/>
<rect x="142.16" y="146.8" width="6.1" height="5.7" fill="#6c72b8"/>
<rect x="142.16" y="152.5" width="6.1" height="2.2" fill="#3a9f66"/>
<rect x="142.16" y="154.7" width="6.1" height="16" fill="#ec3d47"/>
<rect x="142.16" y="170.7" width="6.1" height="1.9" fill="#1ec4c8"/>
<rect x="142.16" y="172.6" width="6.1" height="7.7" fill="#fb7862"/>
<rect x="142.16" y="180.3" width="6.1" height="94.2" fill="#5d42fb"/>
<rect x="154.47" y="145.9" width="6.1" height="7" fill="#eea15a"/>
<rect x="154.47" y="152.9" width="6.1" height="2.8" fill="#3a9f66"/>
<rect x="154.47" y="155.7" width="6.1" height="7" fill="#ec3d47"/>
<rect x="154.47" y="162.7" width="6.1" height="10.2" fill="#1ec4c8"/>
<rect x="154.47" y="172.9" width="6.1" height="101.6" fill="#5d42fb"/>
<rect x="166.77" y="145.9" width="6.1" height="1.6" fill="#1ba096"/>
<rect x="166.77" y="147.5" width="6.1" height="1.9" fill="#8b45a6"/>
<rect x="166.77" y="149.4" width="6.1" height="3.1" fill="#3a9f66"/>
<rect x="166.77" y="152.5" width="6.1" height="18.2" fill="#ec3d47"/>
<rect x="166.77" y="170.7" width="6.1" height="2.2" fill="#1ec4c8"/>
<rect x="166.77" y="172.9" width="6.1" height="1.9" fill="#fbb12f"/>
<rect x="166.77" y="174.8" width="6.1" height="12" fill="#fb7862"/>
<rect x="166.77" y="186.8" width="6.1" height="87.7" fill="#5d42fb"/>
<rect x="179.08" y="145.9" width="6.1" height="1.6" fill="#d13456"/>
<rect x="179.08" y="147.5" width="6.1" height="3.1" fill="#8b45a6"/>
<rect x="179.08" y="150.6" width="6.1" height="3.6" fill="#6c72b8"/>
<rect x="179.08" y="154.2" width="6.1" height="0.9" fill="#ec3d47"/>
<rect x="179.08" y="155.1" width="6.1" height="15.9" fill="#1ec4c8"/>
<rect x="179.08" y="171" width="6.1" height="26.8" fill="#fbb12f"/>
<rect x="179.08" y="197.8" width="6.1" height="65.2" fill="#1169a0"/>
<rect x="179.08" y="263" width="6.1" height="3" fill="#fb7862"/>
<rect x="179.08" y="266" width="6.1" height="8.5" fill="#5d42fb"/>
<rect x="191.38" y="145.9" width="6.1" height="0.9" fill="#1ba096"/>
<rect x="191.38" y="146.8" width="6.1" height="1" fill="#ec6db8"/>
<rect x="191.38" y="147.8" width="6.1" height="1.6" fill="#fbe1a6"/>
<rect x="191.38" y="149.4" width="6.1" height="1.5" fill="#8b45a6"/>
<rect x="191.38" y="150.9" width="6.1" height="2.3" fill="#6c72b8"/>
<rect x="191.38" y="153.2" width="6.1" height="3.8" fill="#3a9f66"/>
<rect x="191.38" y="157" width="6.1" height="7" fill="#ec3d47"/>
<rect x="191.38" y="164" width="6.1" height="4.5" fill="#1ec4c8"/>
<rect x="191.38" y="168.5" width="6.1" height="1.9" fill="#fbb12f"/>
<rect x="191.38" y="170.4" width="6.1" height="11.9" fill="#1169a0"/>
<rect x="191.38" y="182.3" width="6.1" height="27.5" fill="#fb7862"/>
<rect x="191.38" y="209.8" width="6.1" height="64.7" fill="#5d42fb"/>
<rect x="203.69" y="145.9" width="6.1" height="1.9" fill="#1ba096"/>
<rect x="203.69" y="147.8" width="6.1" height="1.6" fill="#ec6db8"/>
<rect x="203.69" y="149.4" width="6.1" height="1.9" fill="#6c72b8"/>
<rect x="203.69" y="151.3" width="6.1" height="4.3" fill="#3a9f66"/>
<rect x="203.69" y="155.6" width="6.1" height="3.8" fill="#ec3d47"/>
<rect x="203.69" y="159.4" width="6.1" height="4" fill="#1ec4c8"/>
<rect x="203.69" y="163.4" width="6.1" height="2.3" fill="#fbb12f"/>
<rect x="203.69" y="165.7" width="6.1" height="27.1" fill="#1169a0"/>
<rect x="203.69" y="192.8" width="6.1" height="21.6" fill="#fb7862"/>
<rect x="203.69" y="214.4" width="6.1" height="60.1" fill="#5d42fb"/>
<rect x="216" y="145.9" width="6.1" height="0.9" fill="#1ba096"/>
<rect x="216" y="146.8" width="6.1" height="1.9" fill="#fbe1a6"/>
<rect x="216" y="148.7" width="6.1" height="3.2" fill="#6c72b8"/>
<rect x="216" y="151.9" width="6.1" height="3.8" fill="#3a9f66"/>
<rect x="216" y="155.7" width="6.1" height="6.1" fill="#ec3d47"/>
<rect x="216" y="161.8" width="6.1" height="1.8" fill="#1ec4c8"/>
<rect x="216" y="163.6" width="6.1" height="2.1" fill="#fbb12f"/>
<rect x="216" y="165.7" width="6.1" height="4.6" fill="#1169a0"/>
<rect x="216" y="170.3" width="6.1" height="26.6" fill="#fb7862"/>
<rect x="216" y="196.9" width="6.1" height="77.6" fill="#5d42fb"/>
<rect x="228.3" y="145.9" width="6.1" height="1.2" fill="#1ba096"/>
<rect x="228.3" y="147.1" width="6.1" height="2.9" fill="#a4c6e4"/>
<rect x="228.3" y="150" width="6.1" height="1.9" fill="#8b45a6"/>
<rect x="228.3" y="151.9" width="6.1" height="1.9" fill="#6c72b8"/>
<rect x="228.3" y="153.8" width="6.1" height="2.6" fill="#3a9f66"/>
<rect x="228.3" y="156.4" width="6.1" height="6.3" fill="#ec3d47"/>
<rect x="228.3" y="162.7" width="6.1" height="6.4" fill="#1ec4c8"/>
<rect x="228.3" y="169.1" width="6.1" height="2.9" fill="#fbb12f"/>
<rect x="228.3" y="172" width="6.1" height="5" fill="#1169a0"/>
<rect x="228.3" y="177" width="6.1" height="24.1" fill="#fb7862"/>
<rect x="228.3" y="201.1" width="6.1" height="73.4" fill="#5d42fb"/>
<path d="M16.1 145.5V275.3" fill="none" stroke="#a2a2a2" stroke-width="0.8"/>
<path d="M15.7 274.9H238" fill="none" stroke="#a2a2a2" stroke-width="0.8"/>
<path d="M14.7 274.5H16.1" stroke="#a2a2a2" stroke-width="0.45"/>
<text x="13.7" y="275.75" font-size="3.5" text-anchor="end" fill="#333333">0</text>
<path d="M14.7 248.78H16.1" stroke="#a2a2a2" stroke-width="0.45"/>
<text x="13.7" y="250.03" font-size="3.5" text-anchor="end" fill="#333333">0.2</text>
<path d="M14.7 223.06H16.1" stroke="#a2a2a2" stroke-width="0.45"/>
<text x="13.7" y="224.31" font-size="3.5" text-anchor="end" fill="#333333">0.4</text>
<path d="M14.7 197.34H16.1" stroke="#a2a2a2" stroke-width="0.45"/>
<text x="13.7" y="198.59" font-size="3.5" text-anchor="end" fill="#333333">0.6</text>
<path d="M14.7 171.62H16.1" stroke="#a2a2a2" stroke-width="0.45"/>
<text x="13.7" y="172.87" font-size="3.5" text-anchor="end" fill="#333333">0.8</text>
<path d="M14.7 145.9H16.1" stroke="#a2a2a2" stroke-width="0.45"/>
<text x="13.7" y="147.15" font-size="3.5" text-anchor="end" fill="#333333">1</text>
<path d="M22.15 274.5V275.5" stroke="#a2a2a2" stroke-width="0.4"/>
<text x="22.15" y="279.65" font-size="3.2" text-anchor="middle" fill="#333333">LiFS01</text>
<path d="M34.46 274.5V275.5" stroke="#a2a2a2" stroke-width="0.4"/>
<text x="34.46" y="279.65" font-size="3.2" text-anchor="middle" fill="#333333">LiFS02</text>
<path d="M46.76 274.5V275.5" stroke="#a2a2a2" stroke-width="0.4"/>
<text x="46.76" y="279.65" font-size="3.2" text-anchor="middle" fill="#333333">LiFS03</text>
<path d="M59.07 274.5V275.5" stroke="#a2a2a2" stroke-width="0.4"/>
<text x="59.07" y="279.65" font-size="3.2" text-anchor="middle" fill="#333333">LiFSC1</text>
<path d="M71.37 274.5V275.5" stroke="#a2a2a2" stroke-width="0.4"/>
<text x="71.37" y="279.65" font-size="3.2" text-anchor="middle" fill="#333333">LiFSC2</text>
<path d="M83.68 274.5V275.5" stroke="#a2a2a2" stroke-width="0.4"/>
<text x="83.68" y="279.65" font-size="3.2" text-anchor="middle" fill="#333333">LiFSC3</text>
<path d="M95.99 274.5V275.5" stroke="#a2a2a2" stroke-width="0.4"/>
<text x="95.99" y="279.65" font-size="3.2" text-anchor="middle" fill="#333333">LiFSY1</text>
<path d="M108.29 274.5V275.5" stroke="#a2a2a2" stroke-width="0.4"/>
<text x="108.29" y="279.65" font-size="3.2" text-anchor="middle" fill="#333333">LiFSY2</text>
<path d="M120.6 274.5V275.5" stroke="#a2a2a2" stroke-width="0.4"/>
<text x="120.6" y="279.65" font-size="3.2" text-anchor="middle" fill="#333333">LiFSY3</text>
<path d="M132.9 274.5V275.5" stroke="#a2a2a2" stroke-width="0.4"/>
<text x="132.9" y="279.65" font-size="3.2" text-anchor="middle" fill="#333333">LiFH01</text>
<path d="M145.21 274.5V275.5" stroke="#a2a2a2" stroke-width="0.4"/>
<text x="145.21" y="279.65" font-size="3.2" text-anchor="middle" fill="#333333">LiFH02</text>
<path d="M157.52 274.5V275.5" stroke="#a2a2a2" stroke-width="0.4"/>
<text x="157.52" y="279.65" font-size="3.2" text-anchor="middle" fill="#333333">LiFH03</text>
<path d="M169.82 274.5V275.5" stroke="#a2a2a2" stroke-width="0.4"/>
<text x="169.82" y="279.65" font-size="3.2" text-anchor="middle" fill="#333333">LiFHY1</text>
<path d="M182.13 274.5V275.5" stroke="#a2a2a2" stroke-width="0.4"/>
<text x="182.13" y="279.65" font-size="3.2" text-anchor="middle" fill="#333333">LiFHY2</text>
<path d="M194.43 274.5V275.5" stroke="#a2a2a2" stroke-width="0.4"/>
<text x="194.43" y="279.65" font-size="3.2" text-anchor="middle" fill="#333333">LiFHY3</text>
<path d="M206.74 274.5V275.5" stroke="#a2a2a2" stroke-width="0.4"/>
<text x="206.74" y="279.65" font-size="3.2" text-anchor="middle" fill="#333333">LiFHC</text>
<path d="M219.05 274.5V275.5" stroke="#a2a2a2" stroke-width="0.4"/>
<text x="219.05" y="279.65" font-size="3.2" text-anchor="middle" fill="#333333">LiFY1</text>
<path d="M231.35 274.5V275.5" stroke="#a2a2a2" stroke-width="0.4"/>
<text x="231.35" y="279.65" font-size="3.2" text-anchor="middle" fill="#333333">LiFYC</text>
<text x="127.05" y="285.3" font-size="3.45" text-anchor="middle" fill="#333333">Samples</text>
<text transform="translate(6.4 210.2) rotate(-90)" font-size="3.55" text-anchor="middle" fill="#333333">Percent of community abundance on Order level</text>
<text x="3.6" y="143.6" font-size="8.4" font-weight="bold" fill="#111">C</text>
<rect x="243.8" y="145.85" width="2.95" height="2.95" fill="#5d42fb"/>
<text x="247.8" y="148.82" font-size="3" fill="#4a4a4a">Mucorales</text>
<rect x="243.8" y="150.78" width="2.95" height="2.95" fill="#fb7862"/>
<text x="247.8" y="153.75" font-size="3" fill="#4a4a4a">Hypocreales</text>
<rect x="243.8" y="155.71" width="2.95" height="2.95" fill="#1169a0"/>
<text x="247.8" y="158.68" font-size="3" fill="#4a4a4a">Erysiphales</text>
<rect x="243.8" y="160.64" width="2.95" height="2.95" fill="#fbb12f"/>
<text x="247.8" y="163.61" font-size="3" fill="#4a4a4a">Capnodiales</text>
<rect x="243.8" y="165.57" width="2.95" height="2.95" fill="#1ec4c8"/>
<text x="247.8" y="168.54" font-size="3" fill="#4a4a4a">Pleosporales</text>
<rect x="243.8" y="170.5" width="2.95" height="2.95" fill="#ec3d47"/>
<text x="247.8" y="173.47" font-size="3" fill="#4a4a4a">Eurotiales</text>
<rect x="243.8" y="175.43" width="2.95" height="2.95" fill="#3a9f66"/>
<text x="247.8" y="178.41" font-size="3" fill="#4a4a4a">Saccharomycetales</text>
<rect x="243.8" y="180.36" width="2.95" height="2.95" fill="#6c72b8"/>
<text x="247.8" y="183.33" font-size="3" fill="#4a4a4a">Sporidiobolales</text>
<rect x="243.8" y="185.29" width="2.95" height="2.95" fill="#8b45a6"/>
<text x="247.8" y="188.26" font-size="3" fill="#4a4a4a">Tremellales</text>
<rect x="243.8" y="190.22" width="2.95" height="2.95" fill="#d13456"/>
<text x="247.8" y="193.19" font-size="3" fill="#4a4a4a">Filobasidiales</text>
<rect x="243.8" y="195.15" width="2.95" height="2.95" fill="#eea15a"/>
<text x="247.8" y="198.12" font-size="3" fill="#4a4a4a">Xylariales</text>
<rect x="243.8" y="200.08" width="2.95" height="2.95" fill="#a4c6e4"/>
<text x="247.8" y="203.05" font-size="3" fill="#4a4a4a">Dothideales</text>
<rect x="243.8" y="205.01" width="2.95" height="2.95" fill="#fbe1a6"/>
<text x="247.8" y="207.98" font-size="3" fill="#4a4a4a">Wallemiales</text>
<rect x="243.8" y="209.94" width="2.95" height="2.95" fill="#ec6db8"/>
<text x="247.8" y="212.91" font-size="3" fill="#4a4a4a">Agaricales</text>
<rect x="243.8" y="214.87" width="2.95" height="2.95" fill="#1ba096"/>
<text x="247.8" y="217.84" font-size="3" fill="#4a4a4a">others</text>
<rect x="291.9" y="145.9" width="5.9" height="2.4" fill="#dfc08e"/>
<rect x="291.9" y="148.3" width="5.9" height="1.1" fill="#1ba096"/>
<rect x="291.9" y="149.4" width="5.9" height="1.9" fill="#2f5cee"/>
<rect x="291.9" y="151.3" width="5.9" height="1.2" fill="#5d7ec8"/>
<rect x="291.9" y="152.5" width="5.9" height="2.6" fill="#fbe1a6"/>
<rect x="291.9" y="155.1" width="5.9" height="6.4" fill="#a4c6e4"/>
<rect x="291.9" y="161.5" width="5.9" height="1.2" fill="#d13456"/>
<rect x="291.9" y="162.7" width="5.9" height="1.9" fill="#8b45a6"/>
<rect x="291.9" y="164.6" width="5.9" height="3.2" fill="#6c72b8"/>
<rect x="291.9" y="167.8" width="5.9" height="4.2" fill="#3a9f66"/>
<rect x="291.9" y="172" width="5.9" height="15" fill="#ec3d47"/>
<rect x="291.9" y="187" width="5.9" height="5" fill="#1ec4c8"/>
<rect x="291.9" y="192" width="5.9" height="19.1" fill="#fbb12f"/>
<rect x="291.9" y="211.1" width="5.9" height="28.8" fill="#1169a0"/>
<rect x="291.9" y="239.9" width="5.9" height="19.4" fill="#fb7862"/>
<rect x="291.9" y="259.3" width="5.9" height="15.2" fill="#5d42fb"/>
<rect x="303.51" y="145.9" width="5.9" height="6.6" fill="#dfc08e"/>
<rect x="303.51" y="152.5" width="5.9" height="2.2" fill="#2f5cee"/>
<rect x="303.51" y="154.7" width="5.9" height="2.9" fill="#fbe1a6"/>
<rect x="303.51" y="157.6" width="5.9" height="8.9" fill="#a4c6e4"/>
<rect x="303.51" y="166.5" width="5.9" height="1.3" fill="#d13456"/>
<rect x="303.51" y="167.8" width="5.9" height="1.3" fill="#8b45a6"/>
<rect x="303.51" y="169.1" width="5.9" height="1.9" fill="#3a9f66"/>
<rect x="303.51" y="171" width="5.9" height="13.5" fill="#ec3d47"/>
<rect x="303.51" y="184.5" width="5.9" height="8.5" fill="#1ec4c8"/>
<rect x="303.51" y="193" width="5.9" height="14.9" fill="#fbb12f"/>
<rect x="303.51" y="207.9" width="5.9" height="10" fill="#1169a0"/>
<rect x="303.51" y="217.9" width="5.9" height="5.5" fill="#fb7862"/>
<rect x="303.51" y="223.4" width="5.9" height="51.1" fill="#5d42fb"/>
<rect x="315.12" y="145.9" width="5.9" height="2.4" fill="#dfc08e"/>
<rect x="315.12" y="148.3" width="5.9" height="2.3" fill="#1ba096"/>
<rect x="315.12" y="150.6" width="5.9" height="1.9" fill="#fbe1a6"/>
<rect x="315.12" y="152.5" width="5.9" height="2.6" fill="#a4c6e4"/>
<rect x="315.12" y="155.1" width="5.9" height="7" fill="#8b45a6"/>
<rect x="315.12" y="162.1" width="5.9" height="1.5" fill="#3a9f66"/>
<rect x="315.12" y="163.6" width="5.9" height="12.5" fill="#ec3d47"/>
<rect x="315.12" y="176.1" width="5.9" height="21.3" fill="#1ec4c8"/>
<rect x="315.12" y="197.4" width="5.9" height="20" fill="#fbb12f"/>
<rect x="315.12" y="217.4" width="5.9" height="27.7" fill="#1169a0"/>
<rect x="315.12" y="245.1" width="5.9" height="21.7" fill="#fb7862"/>
<rect x="315.12" y="266.8" width="5.9" height="7.7" fill="#5d42fb"/>
<rect x="326.73" y="145.9" width="5.9" height="8.1" fill="#dfc08e"/>
<rect x="326.73" y="154" width="5.9" height="1.4" fill="#f7d21f"/>
<rect x="326.73" y="155.4" width="5.9" height="1.6" fill="#a4c6e4"/>
<rect x="326.73" y="157" width="5.9" height="2" fill="#f5773e"/>
<rect x="326.73" y="159" width="5.9" height="7.1" fill="#1ba096"/>
<rect x="326.73" y="166.1" width="5.9" height="2" fill="#fbe1a6"/>
<rect x="326.73" y="168.1" width="5.9" height="1.4" fill="#eea15a"/>
<rect x="326.73" y="169.5" width="5.9" height="2.6" fill="#d13456"/>
<rect x="326.73" y="172.1" width="5.9" height="4" fill="#8b45a6"/>
<rect x="326.73" y="176.1" width="5.9" height="10.9" fill="#6c72b8"/>
<rect x="326.73" y="187" width="5.9" height="1.7" fill="#3a9f66"/>
<rect x="326.73" y="188.7" width="5.9" height="3.3" fill="#ec3d47"/>
<rect x="326.73" y="192" width="5.9" height="5.9" fill="#1ec4c8"/>
<rect x="326.73" y="197.9" width="5.9" height="16.5" fill="#fbb12f"/>
<rect x="326.73" y="214.4" width="5.9" height="4.2" fill="#1169a0"/>
<rect x="326.73" y="218.6" width="5.9" height="15.5" fill="#fb7862"/>
<rect x="326.73" y="234.1" width="5.9" height="40.4" fill="#5d42fb"/>
<rect x="338.34" y="145.9" width="5.9" height="0.9" fill="#dfc08e"/>
<rect x="338.34" y="146.8" width="5.9" height="1.9" fill="#1ba096"/>
<rect x="338.34" y="148.7" width="5.9" height="3.8" fill="#2f5cee"/>
<rect x="338.34" y="152.5" width="5.9" height="1.3" fill="#fbe1a6"/>
<rect x="338.34" y="153.8" width="5.9" height="2.6" fill="#d13456"/>
<rect x="338.34" y="156.4" width="5.9" height="5.7" fill="#6c72b8"/>
<rect x="338.34" y="162.1" width="5.9" height="2.8" fill="#3a9f66"/>
<rect x="338.34" y="164.9" width="5.9" height="1" fill="#ec3d47"/>
<rect x="338.34" y="165.9" width="5.9" height="10.2" fill="#1ec4c8"/>
<rect x="338.34" y="176.1" width="5.9" height="0.8" fill="#fbb12f"/>
<rect x="338.34" y="176.9" width="5.9" height="24.3" fill="#fb7862"/>
<rect x="338.34" y="201.2" width="5.9" height="73.3" fill="#5d42fb"/>
<rect x="349.95" y="145.9" width="5.9" height="3.5" fill="#dfc08e"/>
<rect x="349.95" y="149.4" width="5.9" height="1.9" fill="#1ba096"/>
<rect x="349.95" y="151.3" width="5.9" height="1.9" fill="#2f5cee"/>
<rect x="349.95" y="153.2" width="5.9" height="1.5" fill="#ec6db8"/>
<rect x="349.95" y="154.7" width="5.9" height="1.3" fill="#fbe1a6"/>
<rect x="349.95" y="156" width="5.9" height="6.1" fill="#6c72b8"/>
<rect x="349.95" y="162.1" width="5.9" height="1.5" fill="#3a9f66"/>
<rect x="349.95" y="163.6" width="5.9" height="1.3" fill="#ec3d47"/>
<rect x="349.95" y="164.9" width="5.9" height="2" fill="#1ec4c8"/>
<rect x="349.95" y="166.9" width="5.9" height="4.4" fill="#fbb12f"/>
<rect x="349.95" y="171.3" width="5.9" height="23.1" fill="#fb7862"/>
<rect x="349.95" y="194.4" width="5.9" height="80.1" fill="#5d42fb"/>
<rect x="361.56" y="145.9" width="5.9" height="2.8" fill="#dfc08e"/>
<rect x="361.56" y="148.7" width="5.9" height="3.2" fill="#2f5cee"/>
<rect x="361.56" y="151.9" width="5.9" height="1.9" fill="#fbe1a6"/>
<rect x="361.56" y="153.8" width="5.9" height="3.2" fill="#eea15a"/>
<rect x="361.56" y="157" width="5.9" height="3.2" fill="#8b45a6"/>
<rect x="361.56" y="160.2" width="5.9" height="3.2" fill="#6c72b8"/>
<rect x="361.56" y="163.4" width="5.9" height="1.9" fill="#3a9f66"/>
<rect x="361.56" y="165.3" width="5.9" height="1.6" fill="#ec3d47"/>
<rect x="361.56" y="166.9" width="5.9" height="6.5" fill="#1ec4c8"/>
<rect x="361.56" y="173.4" width="5.9" height="4.2" fill="#fbb12f"/>
<rect x="361.56" y="177.6" width="5.9" height="25" fill="#fb7862"/>
<rect x="361.56" y="202.6" width="5.9" height="71.9" fill="#5d42fb"/>
<rect x="373.17" y="145.9" width="5.9" height="7" fill="#dfc08e"/>
<rect x="373.17" y="152.9" width="5.9" height="3.1" fill="#f7d21f"/>
<rect x="373.17" y="156" width="5.9" height="1.3" fill="#d13456"/>
<rect x="373.17" y="157.3" width="5.9" height="1" fill="#6c72b8"/>
<rect x="373.17" y="158.3" width="5.9" height="3.8" fill="#1ba096"/>
<rect x="373.17" y="162.1" width="5.9" height="25.4" fill="#eea15a"/>
<rect x="373.17" y="187.5" width="5.9" height="3.7" fill="#8b45a6"/>
<rect x="373.17" y="191.2" width="5.9" height="7.5" fill="#3a9f66"/>
<rect x="373.17" y="198.7" width="5.9" height="2.5" fill="#ec3d47"/>
<rect x="373.17" y="201.2" width="5.9" height="3.7" fill="#1ec4c8"/>
<rect x="373.17" y="204.9" width="5.9" height="9.5" fill="#fbb12f"/>
<rect x="373.17" y="214.4" width="5.9" height="11.1" fill="#fb7862"/>
<rect x="373.17" y="225.5" width="5.9" height="49" fill="#5d42fb"/>
<rect x="384.78" y="145.9" width="5.9" height="2.8" fill="#dfc08e"/>
<rect x="384.78" y="148.7" width="5.9" height="1.3" fill="#f7d21f"/>
<rect x="384.78" y="150" width="5.9" height="2.5" fill="#f5773e"/>
<rect x="384.78" y="152.5" width="5.9" height="1.3" fill="#a4c6e4"/>
<rect x="384.78" y="153.8" width="5.9" height="1.9" fill="#2f5cee"/>
<rect x="384.78" y="155.7" width="5.9" height="2.3" fill="#fbe1a6"/>
<rect x="384.78" y="158" width="5.9" height="4.1" fill="#eea15a"/>
<rect x="384.78" y="162.1" width="5.9" height="2.5" fill="#d13456"/>
<rect x="384.78" y="164.6" width="5.9" height="5.1" fill="#8b45a6"/>
<rect x="384.78" y="169.7" width="5.9" height="2.8" fill="#6c72b8"/>
<rect x="384.78" y="172.5" width="5.9" height="3" fill="#3a9f66"/>
<rect x="384.78" y="175.5" width="5.9" height="1.2" fill="#ec3d47"/>
<rect x="384.78" y="176.7" width="5.9" height="7.8" fill="#1ec4c8"/>
<rect x="384.78" y="184.5" width="5.9" height="7.5" fill="#fbb12f"/>
<rect x="384.78" y="192" width="5.9" height="4.2" fill="#1169a0"/>
<rect x="384.78" y="196.2" width="5.9" height="22.6" fill="#fb7862"/>
<rect x="384.78" y="218.8" width="5.9" height="55.7" fill="#5d42fb"/>
<rect x="396.39" y="145.9" width="5.9" height="1.9" fill="#dfc08e"/>
<rect x="396.39" y="147.8" width="5.9" height="1.2" fill="#2f5cee"/>
<rect x="396.39" y="149" width="5.9" height="1.6" fill="#fbe1a6"/>
<rect x="396.39" y="150.6" width="5.9" height="3.2" fill="#8b45a6"/>
<rect x="396.39" y="153.8" width="5.9" height="1.9" fill="#3a9f66"/>
<rect x="396.39" y="155.7" width="5.9" height="11.2" fill="#ec3d47"/>
<rect x="396.39" y="166.9" width="5.9" height="3.5" fill="#1ec4c8"/>
<rect x="396.39" y="170.4" width="5.9" height="15.4" fill="#fbb12f"/>
<rect x="396.39" y="185.8" width="5.9" height="33.2" fill="#1169a0"/>
<rect x="396.39" y="219" width="5.9" height="10.7" fill="#fb7862"/>
<rect x="396.39" y="229.7" width="5.9" height="44.8" fill="#5d42fb"/>
<rect x="408" y="145.9" width="5.9" height="2.2" fill="#dfc08e"/>
<rect x="408" y="148.1" width="5.9" height="2.3" fill="#6c72b8"/>
<rect x="408" y="150.4" width="5.9" height="4.7" fill="#3a9f66"/>
<rect x="408" y="155.1" width="5.9" height="1.6" fill="#ec3d47"/>
<rect x="408" y="156.7" width="5.9" height="16.4" fill="#1ec4c8"/>
<rect x="408" y="173.1" width="5.9" height="7.2" fill="#fb7862"/>
<rect x="408" y="180.3" width="5.9" height="94.2" fill="#5d42fb"/>
<rect x="419.61" y="145.9" width="5.9" height="7" fill="#ec6db8"/>
<rect x="419.61" y="152.9" width="5.9" height="10.2" fill="#d13456"/>
<rect x="419.61" y="163.1" width="5.9" height="2.8" fill="#6c72b8"/>
<rect x="419.61" y="165.9" width="5.9" height="7" fill="#1ec4c8"/>
<rect x="419.61" y="172.9" width="5.9" height="101.6" fill="#5d42fb"/>
<rect x="431.22" y="145.9" width="5.9" height="1.6" fill="#dfc08e"/>
<rect x="431.22" y="147.5" width="5.9" height="2.5" fill="#2f5cee"/>
<rect x="431.22" y="150" width="5.9" height="3.8" fill="#6c72b8"/>
<rect x="431.22" y="153.8" width="5.9" height="1.3" fill="#3a9f66"/>
<rect x="431.22" y="155.1" width="5.9" height="0.9" fill="#ec3d47"/>
<rect x="431.22" y="156" width="5.9" height="18.2" fill="#1ec4c8"/>
<rect x="431.22" y="174.2" width="5.9" height="1.9" fill="#fbb12f"/>
<rect x="431.22" y="176.1" width="5.9" height="10.7" fill="#fb7862"/>
<rect x="431.22" y="186.8" width="5.9" height="87.7" fill="#5d42fb"/>
<rect x="442.83" y="145.9" width="5.9" height="0.9" fill="#dfc08e"/>
<rect x="442.83" y="146.8" width="5.9" height="1.9" fill="#ec6db8"/>
<rect x="442.83" y="148.7" width="5.9" height="2.6" fill="#8b45a6"/>
<rect x="442.83" y="151.3" width="5.9" height="4.4" fill="#3a9f66"/>
<rect x="442.83" y="155.7" width="5.9" height="15.6" fill="#ec3d47"/>
<rect x="442.83" y="171.3" width="5.9" height="26.4" fill="#fbb12f"/>
<rect x="442.83" y="197.7" width="5.9" height="65.3" fill="#1169a0"/>
<rect x="442.83" y="263" width="5.9" height="2.8" fill="#fb7862"/>
<rect x="442.83" y="265.8" width="5.9" height="8.7" fill="#5d42fb"/>
<rect x="454.44" y="145.9" width="5.9" height="5" fill="#dfc08e"/>
<rect x="454.44" y="150.9" width="5.9" height="2" fill="#2f5cee"/>
<rect x="454.44" y="152.9" width="5.9" height="6" fill="#6c72b8"/>
<rect x="454.44" y="158.9" width="5.9" height="2.6" fill="#3a9f66"/>
<rect x="454.44" y="161.5" width="5.9" height="3.8" fill="#ec3d47"/>
<rect x="454.44" y="165.3" width="5.9" height="7.6" fill="#1ec4c8"/>
<rect x="454.44" y="172.9" width="5.9" height="1.3" fill="#fbb12f"/>
<rect x="454.44" y="174.2" width="5.9" height="11.9" fill="#1169a0"/>
<rect x="454.44" y="186.1" width="5.9" height="23.6" fill="#fb7862"/>
<rect x="454.44" y="209.7" width="5.9" height="64.8" fill="#5d42fb"/>
<rect x="466.05" y="145.9" width="5.9" height="4.1" fill="#dfc08e"/>
<rect x="466.05" y="150" width="5.9" height="2.5" fill="#50c49f"/>
<rect x="466.05" y="152.5" width="5.9" height="6.4" fill="#6c72b8"/>
<rect x="466.05" y="158.9" width="5.9" height="1.3" fill="#3a9f66"/>
<rect x="466.05" y="160.2" width="5.9" height="1.6" fill="#ec3d47"/>
<rect x="466.05" y="161.8" width="5.9" height="4.1" fill="#1ec4c8"/>
<rect x="466.05" y="165.9" width="5.9" height="1.7" fill="#fbb12f"/>
<rect x="466.05" y="167.6" width="5.9" height="27.9" fill="#1169a0"/>
<rect x="466.05" y="195.5" width="5.9" height="18.7" fill="#fb7862"/>
<rect x="466.05" y="214.2" width="5.9" height="60.3" fill="#5d42fb"/>
<rect x="477.66" y="145.9" width="5.9" height="2.8" fill="#dfc08e"/>
<rect x="477.66" y="148.7" width="5.9" height="1.7" fill="#2f5cee"/>
<rect x="477.66" y="150.4" width="5.9" height="2.1" fill="#d13456"/>
<rect x="477.66" y="152.5" width="5.9" height="2.6" fill="#6c72b8"/>
<rect x="477.66" y="155.1" width="5.9" height="1.9" fill="#3a9f66"/>
<rect x="477.66" y="157" width="5.9" height="1" fill="#ec3d47"/>
<rect x="477.66" y="158" width="5.9" height="6.2" fill="#1ec4c8"/>
<rect x="477.66" y="164.2" width="5.9" height="1.8" fill="#fbb12f"/>
<rect x="477.66" y="166" width="5.9" height="4.9" fill="#1169a0"/>
<rect x="477.66" y="170.9" width="5.9" height="26.3" fill="#fb7862"/>
<rect x="477.66" y="197.2" width="5.9" height="77.3" fill="#5d42fb"/>
<rect x="489.27" y="145.9" width="5.9" height="4.1" fill="#dfc08e"/>
<rect x="489.27" y="150" width="5.9" height="3.2" fill="#2f5cee"/>
<rect x="489.27" y="153.2" width="5.9" height="2.5" fill="#d13456"/>
<rect x="489.27" y="155.7" width="5.9" height="2.5" fill="#8b45a6"/>
<rect x="489.27" y="158.2" width="5.9" height="2.6" fill="#6c72b8"/>
<rect x="489.27" y="160.8" width="5.9" height="2.3" fill="#3a9f66"/>
<rect x="489.27" y="163.1" width="5.9" height="2.6" fill="#ec3d47"/>
<rect x="489.27" y="165.7" width="5.9" height="6.9" fill="#1ec4c8"/>
<rect x="489.27" y="172.6" width="5.9" height="2.4" fill="#fbb12f"/>
<rect x="489.27" y="175" width="5.9" height="4.8" fill="#1169a0"/>
<rect x="489.27" y="179.8" width="5.9" height="21.9" fill="#fb7862"/>
<rect x="489.27" y="201.7" width="5.9" height="72.8" fill="#5d42fb"/>
<path d="M288.9 145.5V275.3" fill="none" stroke="#a2a2a2" stroke-width="0.8"/>
<path d="M288.5 274.9H497.9" fill="none" stroke="#a2a2a2" stroke-width="0.8"/>
<path d="M287.5 274.5H288.9" stroke="#a2a2a2" stroke-width="0.45"/>
<text x="286.5" y="275.75" font-size="3.5" text-anchor="end" fill="#333333">0</text>
<path d="M287.5 248.78H288.9" stroke="#a2a2a2" stroke-width="0.45"/>
<text x="286.5" y="250.03" font-size="3.5" text-anchor="end" fill="#333333">0.2</text>
<path d="M287.5 223.06H288.9" stroke="#a2a2a2" stroke-width="0.45"/>
<text x="286.5" y="224.31" font-size="3.5" text-anchor="end" fill="#333333">0.4</text>
<path d="M287.5 197.34H288.9" stroke="#a2a2a2" stroke-width="0.45"/>
<text x="286.5" y="198.59" font-size="3.5" text-anchor="end" fill="#333333">0.6</text>
<path d="M287.5 171.62H288.9" stroke="#a2a2a2" stroke-width="0.45"/>
<text x="286.5" y="172.87" font-size="3.5" text-anchor="end" fill="#333333">0.8</text>
<path d="M287.5 145.9H288.9" stroke="#a2a2a2" stroke-width="0.45"/>
<text x="286.5" y="147.15" font-size="3.5" text-anchor="end" fill="#333333">1</text>
<path d="M294.85 274.5V275.5" stroke="#a2a2a2" stroke-width="0.4"/>
<text x="294.85" y="279.65" font-size="3.2" text-anchor="middle" fill="#333333">LiFS01</text>
<path d="M306.46 274.5V275.5" stroke="#a2a2a2" stroke-width="0.4"/>
<text x="306.46" y="279.65" font-size="3.2" text-anchor="middle" fill="#333333">LiFS02</text>
<path d="M318.07 274.5V275.5" stroke="#a2a2a2" stroke-width="0.4"/>
<text x="318.07" y="279.65" font-size="3.2" text-anchor="middle" fill="#333333">LiFS03</text>
<path d="M329.68 274.5V275.5" stroke="#a2a2a2" stroke-width="0.4"/>
<text x="329.68" y="279.65" font-size="3.2" text-anchor="middle" fill="#333333">LiFSC1</text>
<path d="M341.29 274.5V275.5" stroke="#a2a2a2" stroke-width="0.4"/>
<text x="341.29" y="279.65" font-size="3.2" text-anchor="middle" fill="#333333">LiFSC2</text>
<path d="M352.9 274.5V275.5" stroke="#a2a2a2" stroke-width="0.4"/>
<text x="352.9" y="279.65" font-size="3.2" text-anchor="middle" fill="#333333">LiFSC3</text>
<path d="M364.51 274.5V275.5" stroke="#a2a2a2" stroke-width="0.4"/>
<text x="364.51" y="279.65" font-size="3.2" text-anchor="middle" fill="#333333">LiFSY1</text>
<path d="M376.12 274.5V275.5" stroke="#a2a2a2" stroke-width="0.4"/>
<text x="376.12" y="279.65" font-size="3.2" text-anchor="middle" fill="#333333">LiFSY2</text>
<path d="M387.73 274.5V275.5" stroke="#a2a2a2" stroke-width="0.4"/>
<text x="387.73" y="279.65" font-size="3.2" text-anchor="middle" fill="#333333">LiFSY3</text>
<path d="M399.34 274.5V275.5" stroke="#a2a2a2" stroke-width="0.4"/>
<text x="399.34" y="279.65" font-size="3.2" text-anchor="middle" fill="#333333">LiFH01</text>
<path d="M410.95 274.5V275.5" stroke="#a2a2a2" stroke-width="0.4"/>
<text x="410.95" y="279.65" font-size="3.2" text-anchor="middle" fill="#333333">LiFH02</text>
<path d="M422.56 274.5V275.5" stroke="#a2a2a2" stroke-width="0.4"/>
<text x="422.56" y="279.65" font-size="3.2" text-anchor="middle" fill="#333333">LiFH03</text>
<path d="M434.17 274.5V275.5" stroke="#a2a2a2" stroke-width="0.4"/>
<text x="434.17" y="279.65" font-size="3.2" text-anchor="middle" fill="#333333">LiFHY1</text>
<path d="M445.78 274.5V275.5" stroke="#a2a2a2" stroke-width="0.4"/>
<text x="445.78" y="279.65" font-size="3.2" text-anchor="middle" fill="#333333">LiFHY2</text>
<path d="M457.39 274.5V275.5" stroke="#a2a2a2" stroke-width="0.4"/>
<text x="457.39" y="279.65" font-size="3.2" text-anchor="middle" fill="#333333">LiFHY3</text>
<path d="M469 274.5V275.5" stroke="#a2a2a2" stroke-width="0.4"/>
<text x="469" y="279.65" font-size="3.2" text-anchor="middle" fill="#333333">LiFHC</text>
<path d="M480.61 274.5V275.5" stroke="#a2a2a2" stroke-width="0.4"/>
<text x="480.61" y="279.65" font-size="3.2" text-anchor="middle" fill="#333333">LiFY1</text>
<path d="M492.22 274.5V275.5" stroke="#a2a2a2" stroke-width="0.4"/>
<text x="492.22" y="279.65" font-size="3.2" text-anchor="middle" fill="#333333">LiFYC</text>
<text x="393.4" y="285.3" font-size="3.45" text-anchor="middle" fill="#333333">Samples</text>
<text transform="translate(279.6 210.2) rotate(-90)" font-size="3.55" text-anchor="middle" fill="#333333">Percent of community abundance on Family level</text>
<text x="275.2" y="143.5" font-size="8.4" font-weight="bold" fill="#111">D</text>
<rect x="504" y="145.15" width="2.9" height="2.9" fill="#5d42fb"/>
<text x="507.8" y="148.1" font-size="3.08" fill="#4a4a4a">Rhizopodaceae</text>
<rect x="504" y="150.09" width="2.9" height="2.9" fill="#fb7862"/>
<text x="507.8" y="153.04" font-size="3.08" fill="#4a4a4a">Nectriaceae</text>
<rect x="504" y="155.04" width="2.9" height="2.9" fill="#1169a0"/>
<text x="507.8" y="157.99" font-size="3.08" fill="#4a4a4a">Erysiphaceae</text>
<rect x="504" y="159.99" width="2.9" height="2.9" fill="#fbb12f"/>
<text x="507.8" y="162.94" font-size="3.08" fill="#4a4a4a">Cladosporiaceae</text>
<rect x="504" y="164.93" width="2.9" height="2.9" fill="#1ec4c8"/>
<text x="507.8" y="167.88" font-size="3.08" fill="#4a4a4a">Aspergillaceae</text>
<rect x="504" y="169.88" width="2.9" height="2.9" fill="#ec3d47"/>
<text x="507.8" y="172.82" font-size="3.08" fill="#4a4a4a">Pleosporaceae</text>
<rect x="504" y="174.82" width="2.9" height="2.9" fill="#3a9f66"/>
<text x="507.8" y="177.77" font-size="3.08" fill="#4a4a4a">Sporidiobolaceae</text>
<rect x="504" y="179.77" width="2.9" height="2.9" fill="#6c72b8"/>
<text x="507.8" y="182.72" font-size="3.08" fill="#4a4a4a">Debaryomycetaceae</text>
<rect x="504" y="184.71" width="2.9" height="2.9" fill="#8b45a6"/>
<text x="507.8" y="187.66" font-size="3.08" fill="#4a4a4a">Bionectriaceae</text>
<rect x="504" y="189.66" width="2.9" height="2.9" fill="#d13456"/>
<text x="507.8" y="192.6" font-size="3.08" fill="#4a4a4a">Didymellaceae</text>
<rect x="504" y="194.6" width="2.9" height="2.9" fill="#eea15a"/>
<text x="507.8" y="197.55" font-size="3.08" fill="#4a4a4a">Dissoconiaceae</text>
<rect x="504" y="199.55" width="2.9" height="2.9" fill="#a4c6e4"/>
<text x="507.8" y="202.5" font-size="3.08" fill="#4a4a4a">Filobasidiaceae</text>
<rect x="504" y="204.49" width="2.9" height="2.9" fill="#fbe1a6"/>
<text x="507.8" y="207.44" font-size="3.08" fill="#4a4a4a">Bulleribasidiaceae</text>
<rect x="504" y="209.44" width="2.9" height="2.9" fill="#ec6db8"/>
<text x="507.8" y="212.38" font-size="3.08" fill="#4a4a4a">Microdochiaceae</text>
<rect x="504" y="214.38" width="2.9" height="2.9" fill="#1ba096"/>
<text x="507.8" y="217.33" font-size="3.08" fill="#4a4a4a">Aureobasidiaceae</text>
<rect x="504" y="219.33" width="2.9" height="2.9" fill="#2f5cee"/>
<text x="507.8" y="222.28" font-size="3.08" fill="#4a4a4a">Wallemiaceae</text>
<rect x="504" y="224.27" width="2.9" height="2.9" fill="#50c49f"/>
<text x="507.8" y="227.22" font-size="3.08" fill="#4a4a4a">Phaffomycetaceae</text>
<rect x="504" y="229.22" width="2.9" height="2.9" fill="#f5773e"/>
<text x="507.8" y="232.16" font-size="3.08" fill="#4a4a4a">Mycosphaerellaceae</text>
<rect x="504" y="234.16" width="2.9" height="2.9" fill="#5d7ec8"/>
<text x="507.8" y="237.11" font-size="3.08" fill="#4a4a4a">Phaeosphaeriaceae</text>
<rect x="504" y="239.11" width="2.9" height="2.9" fill="#de56cf"/>
<text x="507.8" y="242.06" font-size="3.08" fill="#4a4a4a">unclassified_o__Tremellales</text>
<rect x="504" y="244.05" width="2.9" height="2.9" fill="#80cf3e"/>
<text x="507.8" y="247" font-size="3.08" fill="#4a4a4a">Periconiaceae</text>
<rect x="504" y="249" width="2.9" height="2.9" fill="#f7d21f"/>
<text x="507.8" y="251.94" font-size="3.08" fill="#4a4a4a">Didymosphaeriaceae</text>
<rect x="504" y="253.94" width="2.9" height="2.9" fill="#dfc08e"/>
<text x="507.8" y="256.89" font-size="3.08" fill="#4a4a4a">others</text>
</svg>
</body></html>
